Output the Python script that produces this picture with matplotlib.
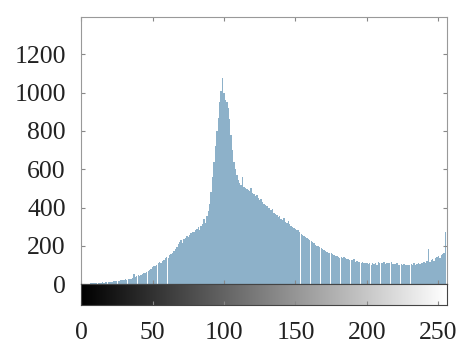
import numpy as np
import matplotlib
matplotlib.use('Agg')
import matplotlib.pyplot as plt

plt.rcParams['font.family'] = ['Liberation Serif', 'DejaVu Serif']

# grey levels 0..255 and pixel counts
levels = np.arange(256)
counts = [
    0, 0, 0, 0, 1, 2, 3, 4, 5, 5,
    6, 6, 7, 5, 8, 9, 8, 10, 11, 10,
    12, 13, 11, 14, 15, 17, 16, 18, 20, 19,
    22, 24, 23, 26, 28, 27, 31, 52, 36, 40,
    45, 42, 50, 55, 60, 58, 65, 70, 75, 80,
    88, 92, 96, 100, 108, 115, 112, 122, 128, 135,
    140, 138, 150, 158, 165, 175, 185, 195, 210, 220,
    228, 215, 235, 242, 250, 245, 258, 265, 272, 270,
    282, 290, 298, 285, 305, 315, 340, 320, 355, 380,
    420, 480, 560, 640, 720, 800, 870, 950, 1010, 1075,
    1000, 960, 950, 920, 860, 780, 700, 640, 600, 570,
    545, 530, 520, 560, 505, 500, 495, 490, 485, 500,
    475, 470, 460, 465, 450, 440, 445, 430, 420, 415,
    410, 400, 395, 385, 390, 370, 365, 360, 350, 355,
    340, 335, 345, 325, 320, 330, 315, 305, 300, 295,
    290, 280, 285, 270, 260, 255, 250, 245, 240, 235,
    230, 225, 220, 215, 205, 200, 198, 192, 188, 182,
    180, 175, 170, 165, 162, 160, 155, 150, 148, 145,
    140, 138, 142, 135, 140, 135, 132, 130, 128, 125,
    125, 130, 118, 122, 115, 118, 112, 115, 110, 108,
    110, 105, 112, 100, 108, 105, 110, 102, 115, 110,
    112, 108, 115, 105, 110, 112, 108, 118, 104, 106,
    105, 110, 100, 98, 104, 100, 106, 98, 102, 100,
    98, 104, 100, 108, 102, 106, 110, 104, 112, 108,
    115, 110, 120, 185, 118, 125, 130, 122, 135, 140,
    145, 138, 150, 155, 160, 270,
]
xticks = [0, 50, 100, 150, 200, 250]
yticks = [0, 200, 400, 600, 800, 1000, 1200]

fig = plt.figure(figsize=(4.74, 3.56), dpi=100)
ax = fig.add_axes([0.171, 0.202, 0.772, 0.750])
cb = fig.add_axes([0.171, 0.143, 0.772, 0.059])

ax.bar(levels, counts, width=0.95, color='#8db1c9', edgecolor='none')
ax.set_xlim(0, 256)
ax.set_ylim(0, 1395)
ax.set_yticks(yticks)
ax.set_xticks(xticks)
ax.tick_params(axis='x', labelbottom=False, top=True, direction='in', length=3, color='#888888')
ax.tick_params(axis='y', right=True, direction='in', length=3, color='#888888',
               labelsize=18.5, pad=11, labelcolor='#222222')
for s in ax.spines.values():
    s.set_color('#999999')
    s.set_linewidth(0.8)
ax.spines['bottom'].set_color('#222222')

# grey-level bar under the histogram
grad = np.linspace(0, 1, 256)[None, :]
cb.imshow(grad, cmap='gray', aspect='auto', extent=[0, 256, 0, 1])
cb.set_xlim(0, 256)
cb.set_yticks([])
cb.set_xticks(xticks)
cb.tick_params(axis='x', direction='in', length=3, color='#888888',
               labelsize=18.5, pad=12, labelcolor='#222222')
for s in cb.spines.values():
    s.set_color('#444444')
    s.set_linewidth(0.8)

fig.savefig('out.png', dpi=100)
